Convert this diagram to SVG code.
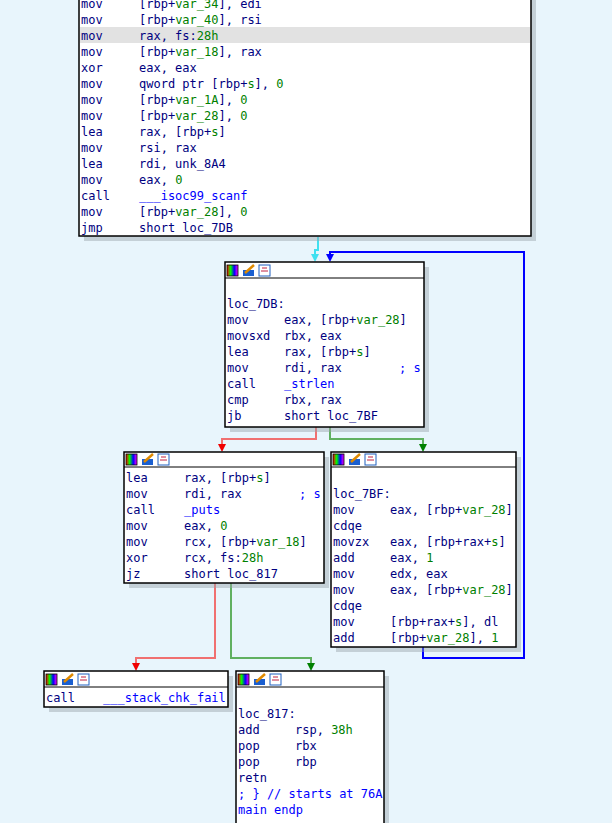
<svg xmlns="http://www.w3.org/2000/svg" width="612" height="823" viewBox="0 0 612 823">
<style>
text{font-family:"DejaVu Sans Mono","Liberation Mono",monospace;font-size:12px;fill:#000080}
.g{fill:#008000}.b{fill:#0000ff}
.blk{fill:#fff;stroke:#000;stroke-width:1.5}
.sh{fill:#9aa4ab;opacity:.45}
.e{fill:none;stroke-width:2}
</style>
<defs>
<linearGradient id="rb" x1="0" x2="1"><stop offset="0" stop-color="#f00"/><stop offset=".33" stop-color="#0f0"/><stop offset=".66" stop-color="#00f"/><stop offset="1" stop-color="#f0f"/></linearGradient>
<g id="ic">
<rect x="1" y="2" width="11" height="11" fill="url(#rb)" stroke="#000" stroke-width=".8"/>
<rect x="17" y="7" width="11" height="6" fill="#1a5fd0"/><path d="M19 10 L28 2" stroke="#e08a00" stroke-width="2.5"/>
<rect x="33" y="2" width="11" height="11" fill="#fff" stroke="#2060c0" stroke-width="1"/><path d="M35 8h7M36 5h5" stroke="#c02040" stroke-width="1"/>
</g>
</defs>
<rect width="612" height="823" fill="#e8f5fc"/>
<g id="connectors">
<path class="e" stroke="#40e0f0" d="M318 237V250H315V256"/><path d="M311 254h8l-4 8z" fill="#40e0f0"/>
<path class="e" stroke="#0000ff" d="M423 647V658H524V252H330V256"/><path d="M326 254h8l-4 8z" fill="#0000ff"/>
<path class="e" stroke="#f07070" d="M316 427V439H222V446"/><path d="M218 444h8l-4 8z" fill="#f00000"/>
<path class="e" stroke="#60b060" d="M330 427V439H423V446"/><path d="M419 444h8l-4 8z" fill="#008000"/>
<path class="e" stroke="#f07070" d="M215 583V658H136V665"/><path d="M132 663h8l-4 8z" fill="#f00000"/>
<path class="e" stroke="#60b060" d="M231 583V658H311V665"/><path d="M307 663h8l-4 8z" fill="#008000"/>
</g>
<g id="n_top">
<rect class="sh" x="84" y="-5" width="452" height="246"/>
<rect class="blk" x="79" y="-10" width="452" height="246"/>
<rect x="80" y="27" width="450" height="16" fill="#e2e2e2"/>
<text x="81" y="8">mov</text><text x="139" y="8">[rbp+<tspan class="g">var_34</tspan>], edi</text>
<text x="81" y="24">mov</text><text x="139" y="24">[rbp+<tspan class="g">var_40</tspan>], rsi</text>
<text x="81" y="40">mov</text><text x="139" y="40">rax, fs:<tspan class="g">28h</tspan></text>
<text x="81" y="56">mov</text><text x="139" y="56">[rbp+<tspan class="g">var_18</tspan>], rax</text>
<text x="81" y="72">xor</text><text x="139" y="72">eax, eax</text>
<text x="81" y="88">mov</text><text x="139" y="88">qword ptr [rbp+<tspan class="g">s</tspan>], <tspan class="g">0</tspan></text>
<text x="81" y="104">mov</text><text x="139" y="104">[rbp+<tspan class="g">var_1A</tspan>], <tspan class="g">0</tspan></text>
<text x="81" y="120">mov</text><text x="139" y="120">[rbp+<tspan class="g">var_28</tspan>], <tspan class="g">0</tspan></text>
<text x="81" y="136">lea</text><text x="139" y="136">rax, [rbp+<tspan class="g">s</tspan>]</text>
<text x="81" y="152">mov</text><text x="139" y="152">rsi, rax</text>
<text x="81" y="168">lea</text><text x="139" y="168">rdi, unk_8A4</text>
<text x="81" y="184">mov</text><text x="139" y="184">eax, <tspan class="g">0</tspan></text>
<text x="81" y="200">call</text><text x="139" y="200" class="b">___isoc99_scanf</text>
<text x="81" y="216">mov</text><text x="139" y="216">[rbp+<tspan class="g">var_28</tspan>], <tspan class="g">0</tspan></text>
<text x="81" y="232">jmp</text><text x="139" y="232">short loc_7DB</text>
</g>
<g id="n_7DB">
<rect class="sh" x="230" y="267" width="199" height="165"/>
<rect class="blk" x="225" y="262" width="199" height="165"/>
<line x1="225" y1="278" x2="424" y2="278" stroke="#000"/>
<use href="#ic" x="226" y="263"/>
<text x="227" y="308">loc_7DB:</text>
<text x="227" y="324">mov</text><text x="284" y="324">eax, [rbp+<tspan class="g">var_28</tspan>]</text>
<text x="227" y="340">movsxd</text><text x="284" y="340">rbx, eax</text>
<text x="227" y="356">lea</text><text x="284" y="356">rax, [rbp+<tspan class="g">s</tspan>]</text>
<text x="227" y="372">mov</text><text x="284" y="372">rdi, rax</text><text x="399" y="372" class="b">; s</text>
<text x="227" y="388">call</text><text x="284" y="388" class="b">_strlen</text>
<text x="227" y="404">cmp</text><text x="284" y="404">rbx, rax</text>
<text x="227" y="420">jb</text><text x="284" y="420">short loc_7BF</text>
</g>
<g id="n_puts">
<rect class="sh" x="129" y="457" width="200" height="131"/>
<rect class="blk" x="124" y="452" width="200" height="131"/>
<line x1="124" y1="467" x2="324" y2="467" stroke="#000"/>
<use href="#ic" x="125" y="452"/>
<text x="126" y="482">lea</text><text x="184" y="482">rax, [rbp+<tspan class="g">s</tspan>]</text>
<text x="126" y="498">mov</text><text x="184" y="498">rdi, rax</text><text x="299" y="498" class="b">; s</text>
<text x="126" y="514">call</text><text x="184" y="514" class="b">_puts</text>
<text x="126" y="530">mov</text><text x="184" y="530">eax, <tspan class="g">0</tspan></text>
<text x="126" y="546">mov</text><text x="184" y="546">rcx, [rbp+<tspan class="g">var_18</tspan>]</text>
<text x="126" y="562">xor</text><text x="184" y="562">rcx, fs:<tspan class="g">28h</tspan></text>
<text x="126" y="578">jz</text><text x="184" y="578">short loc_817</text>
</g>
<g id="n_7BF">
<rect class="sh" x="336" y="457" width="185" height="195"/>
<rect class="blk" x="331" y="452" width="185" height="195"/>
<line x1="331" y1="467" x2="516" y2="467" stroke="#000"/>
<use href="#ic" x="332" y="452"/>
<text x="333" y="498">loc_7BF:</text>
<text x="333" y="514">mov</text><text x="390" y="514">eax, [rbp+<tspan class="g">var_28</tspan>]</text>
<text x="333" y="530">cdqe</text>
<text x="333" y="546">movzx</text><text x="390" y="546">eax, [rbp+rax+<tspan class="g">s</tspan>]</text>
<text x="333" y="562">add</text><text x="390" y="562">eax, <tspan class="g">1</tspan></text>
<text x="333" y="578">mov</text><text x="390" y="578">edx, eax</text>
<text x="333" y="594">mov</text><text x="390" y="594">eax, [rbp+<tspan class="g">var_28</tspan>]</text>
<text x="333" y="610">cdqe</text>
<text x="333" y="626">mov</text><text x="390" y="626">[rbp+rax+<tspan class="g">s</tspan>], dl</text>
<text x="333" y="642">add</text><text x="390" y="642">[rbp+<tspan class="g">var_28</tspan>], <tspan class="g">1</tspan></text>
</g>
<g id="n_fail">
<rect class="sh" x="49" y="676" width="184" height="36"/>
<rect class="blk" x="44" y="671" width="184" height="36"/>
<line x1="44" y1="687" x2="228" y2="687" stroke="#000"/>
<use href="#ic" x="45" y="672"/>
<text x="46" y="702">call</text><text x="103" y="702" class="b">___stack_chk_fail</text>
</g>
<g id="n_817">
<rect class="sh" x="241" y="676" width="148" height="160"/>
<rect class="blk" x="236" y="671" width="148" height="160"/>
<line x1="236" y1="687" x2="384" y2="687" stroke="#000"/>
<use href="#ic" x="237" y="672"/>
<text x="238" y="718">loc_817:</text>
<text x="238" y="734">add</text><text x="295" y="734">rsp, <tspan class="g">38h</tspan></text>
<text x="238" y="750">pop</text><text x="295" y="750">rbx</text>
<text x="238" y="766">pop</text><text x="295" y="766">rbp</text>
<text x="238" y="782">retn</text>
<text x="238" y="798" class="b">; } // starts at 76A</text>
<text x="238" y="814" class="b">main endp</text>
</g>
</svg>
